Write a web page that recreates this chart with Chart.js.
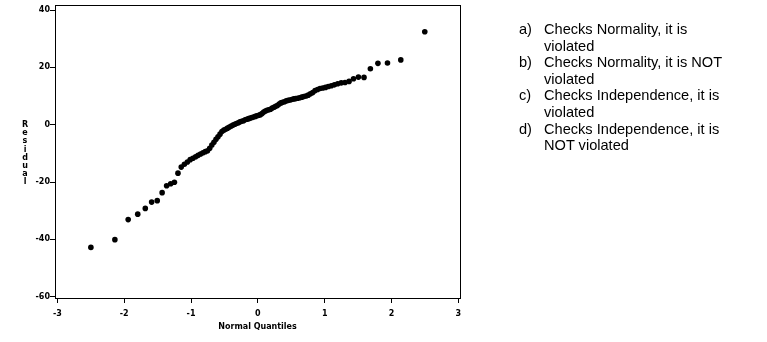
<!DOCTYPE html>
<html>
<head>
<meta charset="utf-8">
<script src="https://cdn.jsdelivr.net/npm/chart.js@4.4.1/dist/chart.umd.min.js"></script>
<style>
    body { margin: 0; background: #fff; }
    #wrap { position: absolute; left: 0; top: 0; width: 767px; height: 342px; }
    #answers {
        position: absolute; left: 519px; top: 21px; width: 213px;
        font-family: "Liberation Sans", Arial, sans-serif; font-size: 14.6px;
        line-height: 16.6px; color: #000;
    }
    #answers div { position: relative; padding-left: 25px; }
    #answers span { position: absolute; left: 0; top: 0; }
</style>
</head>
<body>
<div id="wrap"><canvas id="qqChart"></canvas></div>
<div id="answers">
    <div><span>a)</span>Checks Normality, it is violated</div>
    <div><span>b)</span>Checks Normality, it is NOT violated</div>
    <div><span>c)</span>Checks Independence, it is violated</div>
    <div><span>d)</span>Checks Independence, it is NOT violated</div>
</div>
<script>
// Normal quantiles (x) and residuals (y), 100 points
const quantiles = [
    -2.498, -2.139, -1.940, -1.797, -1.684, -1.589, -1.505, -1.432, -1.365, -1.304,
    -1.248, -1.195, -1.146, -1.099, -1.054, -1.012, -0.971, -0.931, -0.894, -0.857,
    -0.821, -0.786, -0.753, -0.720, -0.688, -0.657, -0.626, -0.596, -0.566, -0.537,
    -0.508, -0.480, -0.453, -0.425, -0.398, -0.371, -0.345, -0.319, -0.292, -0.267,
    -0.241, -0.215, -0.190, -0.164, -0.138, -0.113, -0.088, -0.063, -0.038, -0.013,
    0.013, 0.038, 0.063, 0.088, 0.113, 0.138, 0.164, 0.190, 0.215, 0.241,
    0.267, 0.292, 0.319, 0.345, 0.371, 0.398, 0.425, 0.453, 0.480, 0.508,
    0.537, 0.566, 0.596, 0.626, 0.657, 0.688, 0.720, 0.753, 0.786, 0.821,
    0.857, 0.894, 0.931, 0.971, 1.012, 1.054, 1.099, 1.146, 1.195, 1.248,
    1.304, 1.365, 1.432, 1.505, 1.589, 1.684, 1.797, 1.940, 2.139, 2.498
];
const residuals = [
    -42.8, -40.1, -33.1, -31.2, -29.2, -27.0, -26.5, -23.7, -21.3, -20.6,
    -20.1, -16.9, -14.8, -13.8, -13.0, -12.2, -11.7, -11.2, -10.7, -10.2,
    -9.8, -9.4, -9.1, -8.2, -7.1, -6.1, -5.1, -4.2, -3.3, -2.4,
    -1.9, -1.6, -1.2, -0.8, -0.45, -0.15, 0.15, 0.4, 0.7, 1.0,
    1.2, 1.4, 1.7, 1.9, 2.1, 2.3, 2.5, 2.7, 2.9, 3.1,
    3.3, 3.5, 3.9, 4.4, 4.8, 5.0, 5.2, 5.4, 5.8, 6.1,
    6.4, 6.7, 7.2, 7.6, 7.8, 8.0, 8.3, 8.5, 8.6, 8.8,
    9.0, 9.1, 9.2, 9.4, 9.6, 9.8, 10.0, 10.3, 10.8, 11.2,
    11.9, 12.3, 12.6, 12.8, 13.0, 13.3, 13.6, 13.9, 14.3, 14.6,
    14.7, 15.1, 16.0, 16.6, 16.5, 19.5, 21.4, 21.5, 22.6, 32.4
];
const xTicks = [-3, -2, -1, 0, 1, 2, 3];
const yTicks = [-60, -40, -20, 0, 20, 40];
const xTitle = "Normal Quantiles";
const yTitle = "Residual";

const smallFont = { family: "DejaVu Sans", size: 8, weight: "bold" };

// box around plot area + axis titles (y title is stacked letters)
const framePlugin = {
    id: "frame",
    afterDraw(chart) {
        const { ctx, chartArea } = chart;
        ctx.save();
        ctx.strokeStyle = "#000";
        ctx.lineWidth = 1;
        ctx.strokeRect(chartArea.left + 0.5, chartArea.top + 0.5,
            chartArea.right - chartArea.left, chartArea.bottom - chartArea.top);

        ctx.fillStyle = "#000";
        ctx.font = "bold 8px 'DejaVu Sans'";
        ctx.textAlign = "center";
        ctx.textBaseline = "middle";
        ctx.fillText(xTitle, (chartArea.left + chartArea.right) / 2, 327);

        const letters = yTitle.split("");
        const step = 8.2;
        const y0 = 125;
        letters.forEach((ch, i) => {
            ctx.fillText(ch, 25, y0 + i * step);
        });
        ctx.restore();
    }
};

function renderQQChart() {
    const ctx = document.getElementById("qqChart").getContext("2d");
    const points = quantiles.map((q, i) => ({ x: q, y: residuals[i] }));

    new Chart(ctx, {
        type: "scatter",
        data: {
            datasets: [{
                data: points,
                backgroundColor: "#000",
                borderWidth: 0,
                pointRadius: 2.8,
                pointHoverRadius: 2.8
            }]
        },
        options: {
            responsive: true,
            maintainAspectRatio: false,
            animation: false,
            layout: { padding: { left: 25, right: 307, top: 5, bottom: 0 } },
            plugins: {
                legend: { display: false },
                tooltip: { enabled: false }
            },
            scales: {
                x: {
                    type: "linear",
                    min: -3.035,
                    max: 3.025,
                    afterBuildTicks: scale => { scale.ticks = xTicks.map(v => ({ value: v })); },
                    afterFit: scale => { scale.height = 44; },
                    ticks: { color: "#000", font: smallFont, padding: 6, maxRotation: 0 },
                    grid: { drawOnChartArea: false, tickLength: 5, tickColor: "#000" },
                    border: { color: "#000", width: 1 }
                },
                y: {
                    type: "linear",
                    min: -60.45,
                    max: 41.75,
                    afterBuildTicks: scale => { scale.ticks = yTicks.map(v => ({ value: v })); },
                    afterFit: scale => { scale.width = 30; },
                    ticks: { color: "#000", font: smallFont, padding: 0 },
                    grid: { drawOnChartArea: false, tickLength: 5, tickColor: "#000" },
                    border: { color: "#000", width: 1 }
                }
            }
        },
        plugins: [framePlugin]
    });
}

renderQQChart();
</script>
</body>
</html>
